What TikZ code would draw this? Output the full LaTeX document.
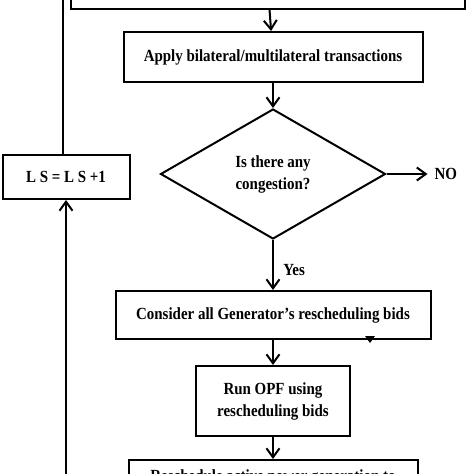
\documentclass[tikz,border=0pt]{standalone}
\usepackage{fontspec}
\setmainfont{Liberation Serif}[FakeStretch=0.88]
\usetikzlibrary{positioning,shapes.geometric,arrows.meta}

\begin{document}
\begin{tikzpicture}[
    x=1pt, y=-1pt,
    node distance=24pt,
    font=\bfseries\fontsize{17}{22}\selectfont,
    line width=2pt,
    >={Straight Barb[length=9pt,width=13pt]},
    block/.style={rectangle, draw, line width=2pt, align=center, fill=white},
    decision/.style={diamond, draw, line width=2pt, align=center, inner sep=0pt, minimum width=225pt, minimum height=130pt}
  ]
  \path[use as bounding box, clip] (0,0) rectangle (474,474);
  \fill[white] (0,0) rectangle (474,474);
  \node[block, minimum width=394pt, minimum height=40pt] (init) at (268,-11) {};
  \node[block, minimum width=299pt, minimum height=50pt] (apply) at (273,57) {Apply bilateral/multilateral transactions};
  \node[decision, below=25pt of apply] (cong) {Is there any\\congestion?};
  \node[anchor=west, inner xsep=6pt, inner ysep=2pt] (no) at ([xshift=41pt]cong.east) {NO};
  \node[block, below=50pt of cong, minimum width=315pt, minimum height=48pt] (cons) {Consider all Generator’s rescheduling bids};
  \node[block, below=25pt of cons, minimum width=154pt, minimum height=70pt] (opf) {Run OPF using\\rescheduling bids};
  \node[draw, fill=white, below=22pt of opf, minimum width=289pt, text height=18pt, text depth=30pt] (resched) {Reschedule active power generation to};
  \node[block, minimum width=127pt, minimum height=44pt] (ls) at (66,177) {L S = L S +1};
  \coordinate (looptop) at (63,0);
  \coordinate (loopbot) at (66,474);
  \draw[->] (init) -- (apply);
  \draw[->] (apply) -- (cong);
  \draw[->] (cong) -- (no);
  \draw[->] (cong) -- node[right=6pt, pos=0.6] {Yes} (cons);
  \draw[->] (cons) -- (opf);
  \draw[->] (opf) -- (resched);
  \draw (looptop) -- (looptop |- ls.north);
  \draw[->] (loopbot) -- (ls.south);
  \fill (365,336) -- (375,336) -- (370,343) -- cycle;
\end{tikzpicture}
\end{document}
